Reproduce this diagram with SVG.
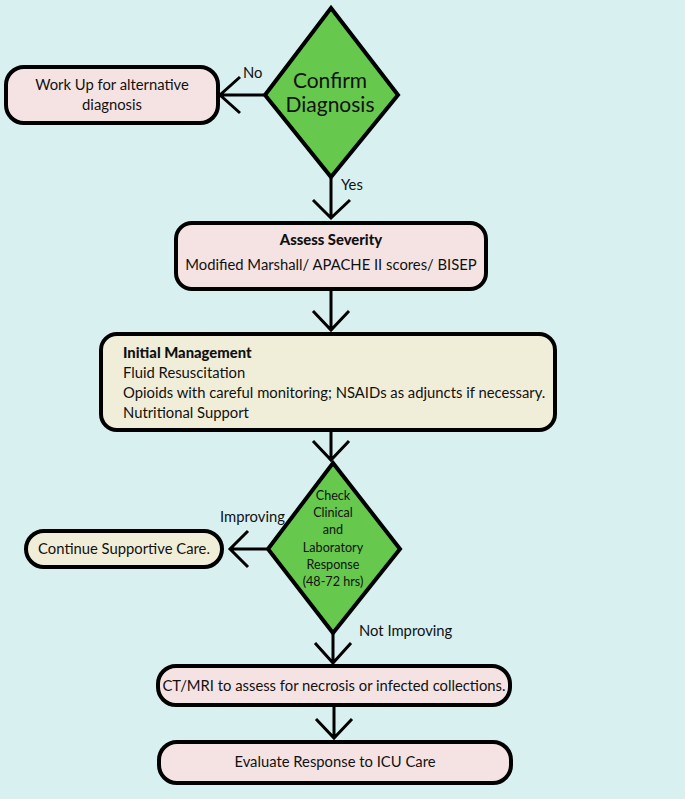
<svg xmlns="http://www.w3.org/2000/svg" width="685" height="799" viewBox="0 0 685 799">
<style>
.bg{fill:#d8f0f0}
.box{stroke:#000;stroke-width:4}
.pink{fill:#f5e3e3}
.cream{fill:#f0eed9}
.dia{fill:#66c84c;stroke:#000;stroke-width:4;stroke-linejoin:miter}
.t{font-family:Lato,"Liberation Sans",sans-serif;font-size:14.8px;fill:#111}
.c{text-anchor:middle}
.b{font-weight:900}
.big{font-size:21px}
.sm{font-size:12.6px}
.con path{fill:none;stroke:#000;stroke-width:3}
</style>
<rect class="bg" x="0" y="0" width="685" height="799"/>
<g class="con">
<path d="M265,95 H220 M240,77 L220,95 L240,113"/>
<path d="M331,177 V218 M313,200 L331,218 L350,200"/>
<path d="M331,289 V330 M313,311 L331,330 L349,311"/>
<path d="M331,430 V460 M313,441 L331,460 L349,441"/>
<path d="M268,549 H230 M248,531 L230,549 L248,567"/>
<path d="M333,633 V663 M315,643 L333,663 L351,643"/>
<path d="M334,705 V738 M316,719 L334,738 L352,719"/>
</g>
<text class="t" x="243" y="78">No</text>
<text class="t" x="341" y="190">Yes</text>
<text class="t" x="220" y="522">Improving</text>
<text class="t" x="359" y="636">Not Improving</text>
<g id="confirm">
<polygon class="dia" points="331,8 398,95 331,177 265,95"/>
<text class="t c big" x="330" y="88">Confirm</text>
<text class="t c big" x="330" y="112">Diagnosis</text>
</g>
<g id="workup">
<rect class="box pink" x="6" y="67" width="212" height="56" rx="18"/>
<text class="t c" x="112" y="90">Work Up for alternative</text>
<text class="t c" x="112" y="110">diagnosis</text>
</g>
<g id="assess">
<rect class="box pink" x="176" y="223" width="310" height="66" rx="16"/>
<text class="t c b" x="331" y="245">Assess Severity</text>
<text class="t c" x="331" y="270">Modified Marshall/ APACHE II scores/ BISEP</text>
</g>
<g id="initial">
<rect class="box cream" x="101" y="334" width="454" height="96" rx="16"/>
<text class="t b" x="123" y="358">Initial Management</text>
<text class="t" x="123" y="378">Fluid Resuscitation</text>
<text class="t" x="123" y="398">Opioids with careful monitoring; NSAIDs as adjuncts if necessary.</text>
<text class="t" x="123" y="418">Nutritional Support</text>
</g>
<g id="check">
<polygon class="dia" points="333,463 400,549 333,633 268,549"/>
<text class="t c sm" x="333" y="500">Check</text>
<text class="t c sm" x="333" y="517">Clinical</text>
<text class="t c sm" x="333" y="534">and</text>
<text class="t c sm" x="333" y="552">Laboratory</text>
<text class="t c sm" x="333" y="569">Response</text>
<text class="t c sm" x="333" y="586">(48-72 hrs)</text>
</g>
<g id="continue">
<rect class="box cream" x="26" y="531" width="196" height="36" rx="18"/>
<text class="t c" x="124" y="554">Continue Supportive Care.</text>
</g>
<g id="ctmri">
<rect class="box pink" x="158" y="666" width="352" height="39" rx="18"/>
<text class="t c" x="334" y="691">CT/MRI to assess for necrosis or infected collections.</text>
</g>
<g id="evaluate">
<rect class="box pink" x="159" y="742" width="352" height="41" rx="18"/>
<text class="t c" x="335" y="767">Evaluate Response to ICU Care</text>
</g>
</svg>
